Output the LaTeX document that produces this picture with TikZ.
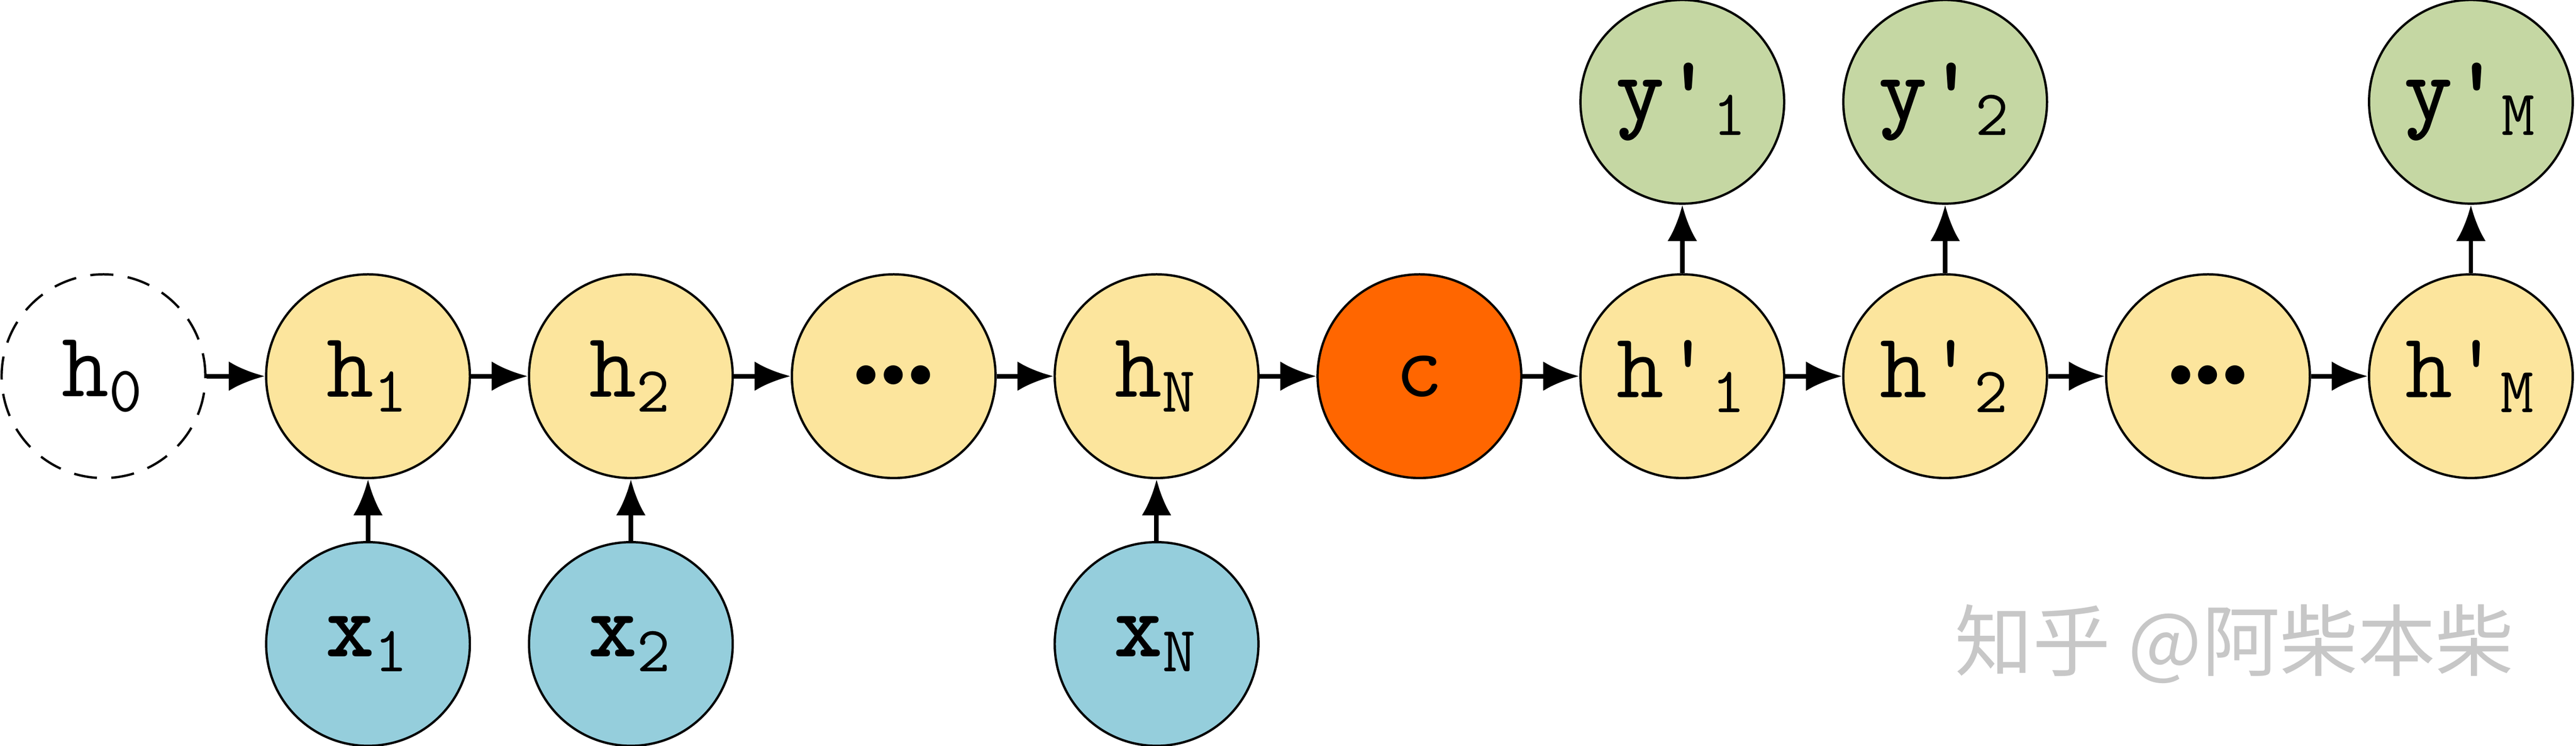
\documentclass[tikz,border=0pt]{standalone}
\usepackage{fontspec}
\newfontfamily\cjkwm{Noto Sans CJK SC}
\usetikzlibrary{arrows.meta}
\definecolor{hidcol}{HTML}{FCE59D}
\definecolor{incol}{HTML}{95CEDC}
\definecolor{outcol}{HTML}{C5D7A3}
\definecolor{ctxcol}{HTML}{FF6600}
\newcommand{\cellsub}[1]{\textsubscript{\mdseries #1}}
\newcommand{\celldots}{{\footnotesize$\bullet\!\bullet\!\bullet$}}
\begin{document}
\begin{tikzpicture}
	\useasboundingbox (0,0) rectangle (15.68,4.54);
	\begin{scope}
		[
			styleCell/.style={circle, draw, minimum size=1.24cm, inner sep=0pt,
				font=\fontsize{16}{18}\selectfont\ttfamily},
			styleHid/.style={styleCell, fill=hidcol},
			styleIn/.style={styleCell, fill=incol},
			styleOut/.style={styleCell, fill=outcol},
		]
		\node(h0)[styleCell, dash pattern=on 4pt off 2.5pt] at (0.63,2.25) {h\cellsub{0}};
		\node(h1)[styleHid] at (2.24,2.25) {h\cellsub{1}};
		\node(h2)[styleHid] at (3.84,2.25) {h\cellsub{2}};
		\node(hd)[styleHid] at (5.44,2.25) {\celldots};
		\node(hN)[styleHid] at (7.04,2.25) {h\cellsub{N}};
		\node(c)[styleCell, fill=ctxcol] at (8.64,2.25) {c};
		\node(g1)[styleHid] at (10.24,2.25) {h'\cellsub{1}};
		\node(g2)[styleHid] at (11.84,2.25) {h'\cellsub{2}};
		\node(gd)[styleHid] at (13.44,2.25) {\celldots};
		\node(gM)[styleHid] at (15.04,2.25) {h'\cellsub{M}};

		\node(x1)[styleIn] at (2.24,0.62) {\textbf{x}\cellsub{1}};
		\node(x2)[styleIn] at (3.84,0.62) {\textbf{x}\cellsub{2}};
		\node(xN)[styleIn] at (7.04,0.62) {\textbf{x}\cellsub{N}};

		\node(y1)[styleOut] at (10.24,3.92) {\textbf{y'}\cellsub{1}};
		\node(y2)[styleOut] at (11.84,3.92) {\textbf{y'}\cellsub{2}};
		\node(yM)[styleOut] at (15.04,3.92) {\textbf{y'}\cellsub{M}};

		\node(mark)[text=black!22, font=\cjkwm\fontsize{13.5}{15}\selectfont] at (13.6,0.62) {知乎 @阿柴本柴};
	\end{scope}

	\begin{scope}
		[ flow/.style = {-{Latex[length=2.2mm,width=1.8mm]}, thick} ]
		\path
		(h0) edge[flow] (h1)
		(h1) edge[flow] (h2)
		(h2) edge[flow] (hd)
		(hd) edge[flow] (hN)
		(hN) edge[flow] (c)
		(c)  edge[flow] (g1)
		(g1) edge[flow] (g2)
		(g2) edge[flow] (gd)
		(gd) edge[flow] (gM)

		(x1) edge[flow] (h1)
		(x2) edge[flow] (h2)
		(xN) edge[flow] (hN)

		(g1) edge[flow] (y1)
		(g2) edge[flow] (y2)
		(gM) edge[flow] (yM);
	\end{scope}
\end{tikzpicture}
\end{document}
